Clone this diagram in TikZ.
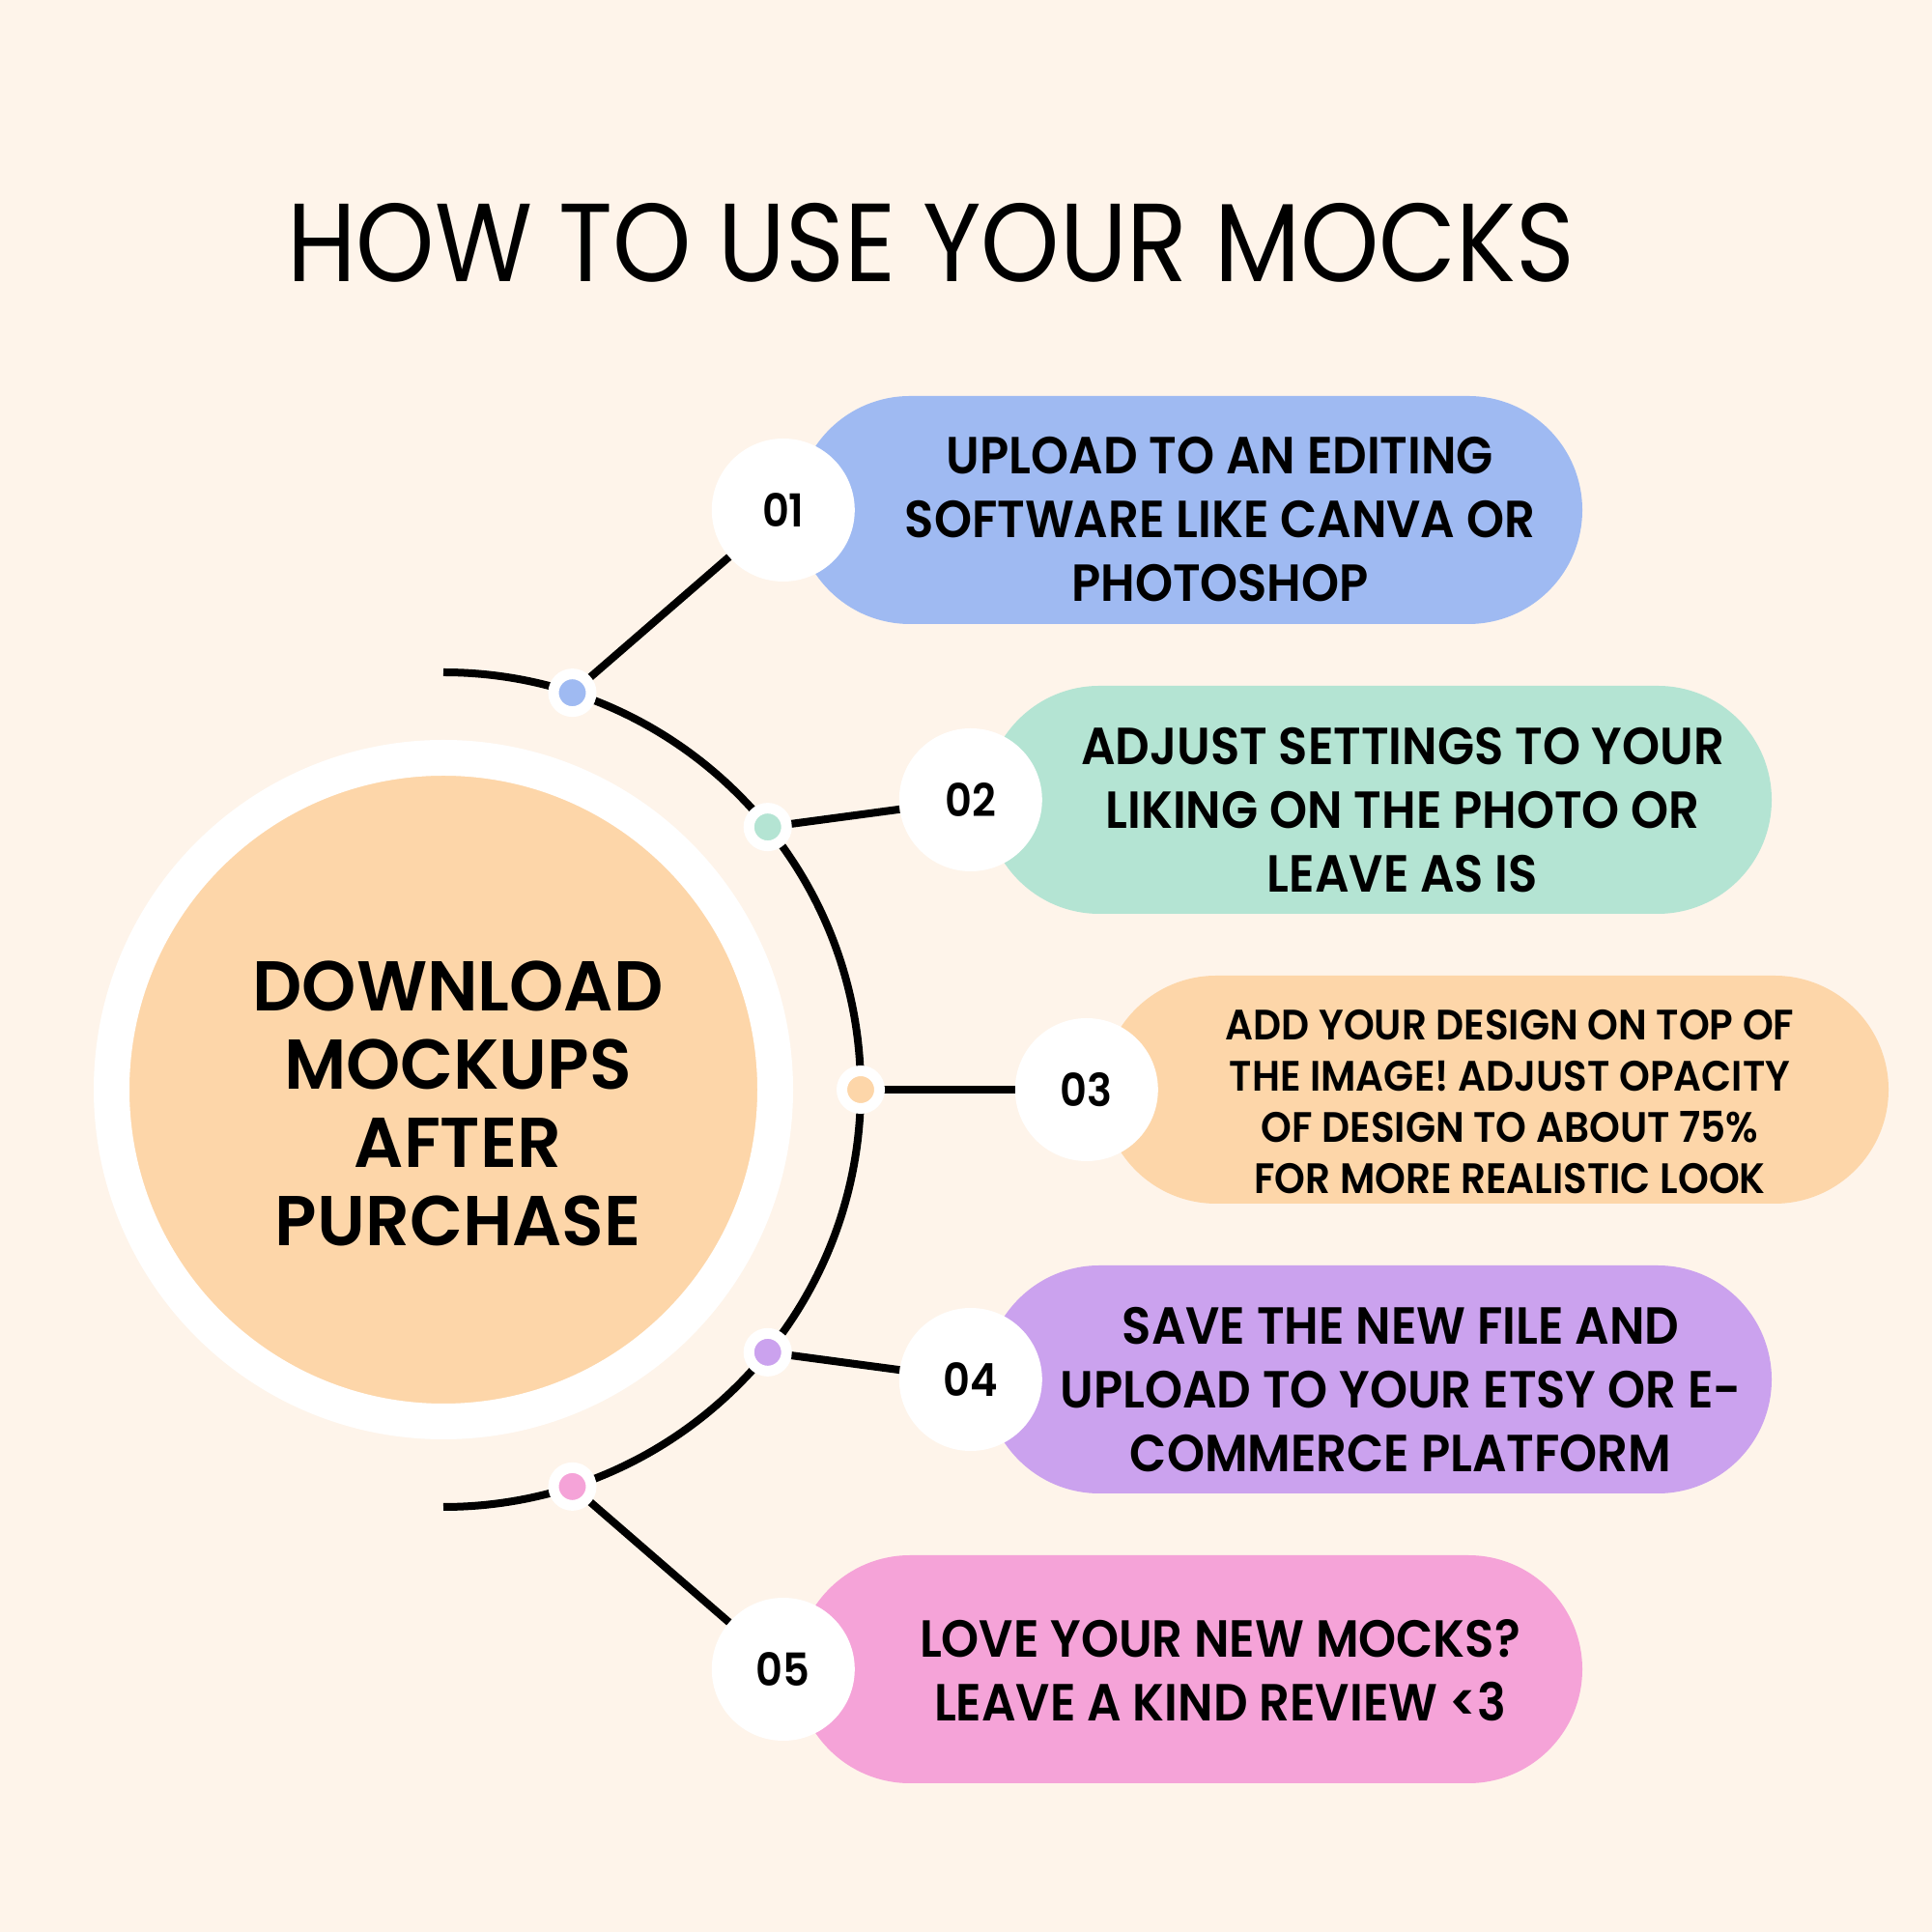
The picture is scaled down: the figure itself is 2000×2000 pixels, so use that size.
\documentclass[tikz,border=0pt]{standalone}
\usepackage{fontspec}
\setmainfont{Poppins}
\newfontfamily\titlefont[FakeStretch=0.9]{Poppins}
\newfontfamily\stepfont[FakeStretch=0.92]{Poppins SemiBold}
\newfontfamily\hubfont[FakeStretch=0.98]{Poppins SemiBold}
\usetikzlibrary{positioning}

\definecolor{paper}{HTML}{FEF4EA}
\definecolor{peach}{HTML}{FDD6A9}
\definecolor{blueish}{HTML}{9FBAF2}
\definecolor{mint}{HTML}{B4E4D3}
\definecolor{lilac}{HTML}{CBA2EE}
\definecolor{pink}{HTML}{F5A3D8}

\begin{document}
\begin{tikzpicture}[
x=1pt, y=1pt,
pill/.style={rectangle, rounded corners=118pt, minimum width=814pt, minimum height=236pt, inner sep=0pt},
num/.style={circle, fill=white, minimum size=148pt, inner sep=0pt, font=\stepfont\fontsize{47}{52}\selectfont},
dot/.style={circle, draw=white, line width=11pt, minimum size=39pt, inner sep=0pt},
link/.style={line width=8pt},
steplabel/.style={align=center, inner sep=0pt, font=\stepfont\fontsize{54}{66}\selectfont}
]

\fill[paper] (0,0) rectangle (2000,2000);
\useasboundingbox (0,0) rectangle (2000,2000);

\node[font=\titlefont\fontsize{115}{115}\selectfont] (title) at (964,1749) {HOW TO USE YOUR MOCKS};

% centre circle
\node[circle, fill=peach, draw=white, line width=37pt, minimum size=687pt] (hub) at (459,872) {};
\node[align=center, inner sep=0pt, font=\hubfont\fontsize{73}{81}\selectfont] (hubtext) at ([xshift=15pt, yshift=-14pt]hub.center) {DOWNLOAD\\MOCKUPS\\AFTER\\PURCHASE};

% steps
\node[pill, fill=blueish] (p1) at (1231,1472) {};
\node[pill, fill=mint] (p2) at (1427,1172) {};
\node[pill, fill=peach] (p3) at (1548,872) {};
\node[pill, fill=lilac] (p4) at (1427,572) {};
\node[pill, fill=pink] (p5) at (1231,272) {};

\node[num] (n1) at ([xshift=-13pt]p1.west) {01};
\node[num] (n2) at ([xshift=-15pt]p2.west) {02};
\node[num] (n3) at ([xshift=-16pt]p3.west) {03};
\node[num] (n4) at ([xshift=-15pt]p4.west) {04};
\node[num] (n5) at ([xshift=-13pt]p5.west) {05};

\node[steplabel] (t1) at ([xshift=32pt, yshift=-10pt]p1.center) {UPLOAD TO AN EDITING\\SOFTWARE LIKE CANVA OR\\PHOTOSHOP};
\node[steplabel] (t2) at ([xshift=25pt, yshift=-11pt]p2.center) {ADJUST SETTINGS TO YOUR\\LIKING ON THE PHOTO OR\\LEAVE AS IS};
\node[steplabel, font=\stepfont\fontsize{44}{53}\selectfont] (t3) at ([xshift=15pt, yshift=-13pt]p3.center) {ADD YOUR DESIGN ON TOP OF\\THE IMAGE! ADJUST OPACITY\\OF DESIGN TO ABOUT 75\%\\FOR MORE REALISTIC LOOK};
\node[steplabel] (t4) at ([xshift=23pt, yshift=-11pt]p4.center) {SAVE THE NEW FILE AND\\UPLOAD TO YOUR ETSY OR E-\\COMMERCE PLATFORM};
\node[steplabel] (t5) at ([xshift=32pt, yshift=-1pt]p5.center) {LOVE YOUR NEW MOCKS?\\LEAVE A KIND REVIEW <3};

% arc and links
\draw[link] ([shift={(90:432)}]hub.center) arc[start angle=90, end angle=-90, radius=432];

\coordinate (a1) at ([shift={(72:432)}]hub.center);
\coordinate (a2) at ([shift={(39:432)}]hub.center);
\coordinate (a3) at ([shift={(0:432)}]hub.center);
\coordinate (a4) at ([shift={(-39:432)}]hub.center);
\coordinate (a5) at ([shift={(-72:432)}]hub.center);

\draw[link] (a1) -- (n1);
\draw[link] (a2) -- (n2);
\draw[link] (a3) -- (n3);
\draw[link] (a4) -- (n4);
\draw[link] (a5) -- (n5);

\node[dot, fill=blueish] (d1) at (a1) {};
\node[dot, fill=mint] (d2) at (a2) {};
\node[dot, fill=peach] (d3) at (a3) {};
\node[dot, fill=lilac] (d4) at (a4) {};
\node[dot, fill=pink] (d5) at (a5) {};

\end{tikzpicture}
\end{document}
